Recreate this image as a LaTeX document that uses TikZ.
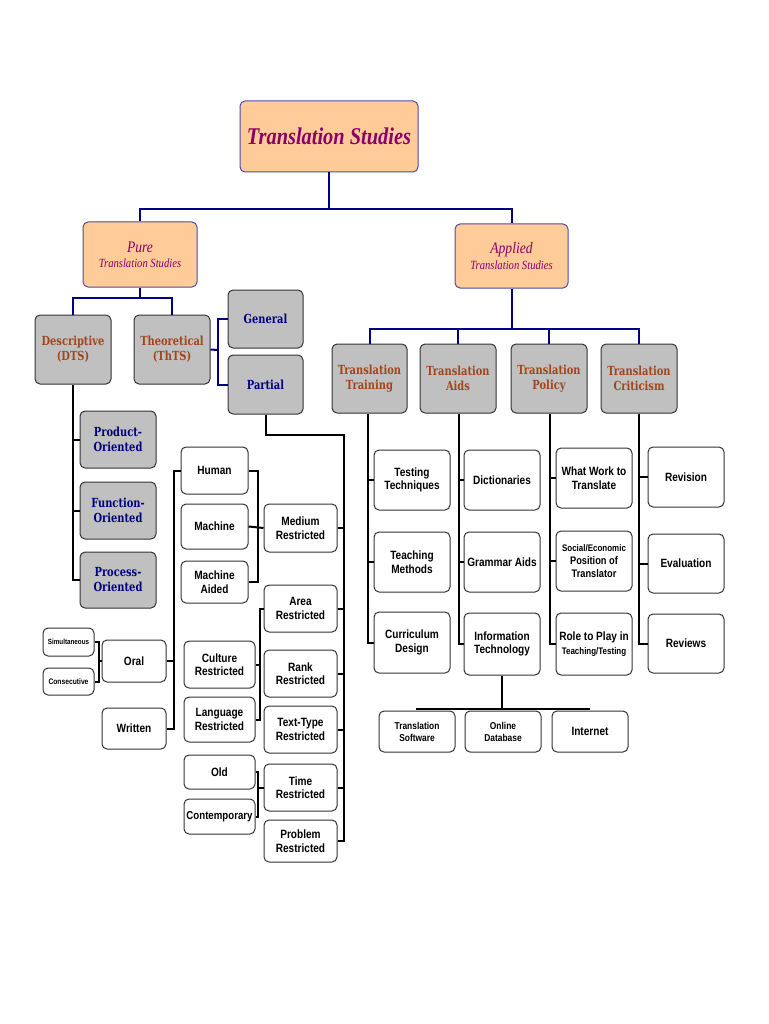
\documentclass[tikz,border=0pt]{standalone}
\usepackage{fontspec}
\setmainfont{Liberation Sans}[FakeStretch=0.84]
\newfontfamily\hdfont{DejaVu Serif Condensed}[FakeStretch=0.88]
\newfontfamily\ttlfont{Liberation Serif}[FakeStretch=0.85]
\definecolor{peach}{HTML}{FFCC99}
\definecolor{navyc}{HTML}{000080}
\definecolor{brownc}{HTML}{A0461E}
\definecolor{purp}{HTML}{8B0066}
\definecolor{greyc}{HTML}{C0C0C0}
\tikzset{
 base/.style={draw=black!80,line width=1pt,rounded corners=5pt,align=center,inner sep=1pt},
 wb/.style={base,fill=white,font=\fontsize{12}{13.5}\selectfont\bfseries},
 sm/.style={base,fill=white,font=\fontsize{8}{9}\selectfont\bfseries},
 gb/.style={base,fill=greyc,font=\hdfont\fontsize{12.5}{15}\selectfont\bfseries\color{brownc}},
 gn/.style={base,fill=greyc,font=\hdfont\fontsize{12.5}{15}\selectfont\bfseries\color{navyc}},
 pb/.style={base,fill=peach,draw=navyc!70,font=\ttlfont\itshape\color{purp}},
 bl/.style={navyc,line width=2pt},
 kl/.style={black,line width=2pt},
}
\begin{document}
\begin{tikzpicture}[x=1pt,y=-1pt]
\useasboundingbox (0,0) rectangle (768,1024);
% peach boxes
\node[pb,minimum width=178,minimum height=71,font=\ttlfont\itshape\bfseries\fontsize{24}{26}\selectfont\color{purp}] (ts) at (329,136.5) {Translation Studies};
\node[pb,minimum width=114,minimum height=65] (pure) at (140,254.5) {{\fontsize{16}{18}\selectfont Pure}\\[3pt]{\fontsize{12.5}{14}\selectfont Translation Studies}};
\node[pb,minimum width=113,minimum height=64] (appl) at (511.5,256) {{\fontsize{16}{18}\selectfont Applied}\\[3pt]{\fontsize{12.5}{14}\selectfont Translation Studies}};
% grey boxes
\node[gb,minimum width=76,minimum height=69] (desc) at (73,349.5) {Descriptive\\(DTS)};
\node[gb,minimum width=76,minimum height=69] (theo) at (172,349.5) {Theoretical\\(ThTS)};
\node[gn,minimum width=75,minimum height=58] (gen) at (265.5,319) {General};
\node[gn,minimum width=75,minimum height=59] (part) at (265.5,384.5) {Partial};
\node[gn,minimum width=76,minimum height=57] (prod) at (118,439.5) {Product-\\Oriented};
\node[gn,minimum width=76,minimum height=57] (func) at (118,510.5) {Function-\\Oriented};
\node[gn,minimum width=76,minimum height=56] (proc) at (118,580) {Process-\\Oriented};
\node[gb,minimum width=75,minimum height=69] (trn) at (369.5,378.5) {Translation\\Training};
\node[gb,minimum width=76,minimum height=69] (aids) at (458,378.5) {Translation\\Aids};
\node[gb,minimum width=76,minimum height=69] (pol) at (549,378.5) {Translation\\Policy};
\node[gb,minimum width=76,minimum height=69] (crit) at (639,378.5) {Translation\\Criticism};
% white boxes left
\node[wb,minimum width=67,minimum height=47] (hum) at (214.5,470.5) {Human};
\node[wb,minimum width=67,minimum height=45] (mach) at (214.5,526.5) {Machine};
\node[wb,minimum width=67,minimum height=42] (mai) at (214.5,582) {Machine\\Aided};
\node[wb,minimum width=73,minimum height=48] (med) at (300.5,528) {Medium\\Restricted};
\node[wb,minimum width=73,minimum height=47] (area) at (300.5,608.5) {Area\\Restricted};
\node[wb,minimum width=73,minimum height=47] (rank) at (300.5,673.5) {Rank\\Restricted};
\node[wb,minimum width=73,minimum height=47] (text) at (300.5,729.5) {Text-Type\\Restricted};
\node[wb,minimum width=73,minimum height=47] (time) at (300.5,787.5) {Time\\Restricted};
\node[wb,minimum width=73,minimum height=42] (prob) at (300.5,841) {Problem\\Restricted};
\node[wb,minimum width=71,minimum height=47] (cult) at (219.5,664.5) {Culture\\Restricted};
\node[wb,minimum width=71,minimum height=45] (lang) at (219.5,719.5) {Language\\Restricted};
\node[wb,minimum width=71,minimum height=34] (old) at (219.5,772) {Old};
\node[wb,minimum width=71,minimum height=35,font=\fontsize{11.5}{13}\selectfont\bfseries] (cont) at (219.5,816.5) {Contemporary};
\node[wb,minimum width=64,minimum height=42] (oral) at (134,661) {Oral};
\node[wb,minimum width=64,minimum height=41] (writ) at (134,728.5) {Written};
\node[sm,minimum width=51,minimum height=28,font=\fontsize{7.5}{9}\selectfont\bfseries] (simu) at (68.5,642) {Simultaneous};
\node[sm,minimum width=51,minimum height=27] (cons) at (68.5,681.5) {Consecutive};
% white boxes right
\node[wb,minimum width=76,minimum height=60] (test) at (412,480) {Testing\\Techniques};
\node[wb,minimum width=76,minimum height=60] (teach) at (412,562) {Teaching\\Methods};
\node[wb,minimum width=76,minimum height=61] (curr) at (412,642.5) {Curriculum\\Design};
\node[wb,minimum width=76,minimum height=60] (dict) at (502,480) {Dictionaries};
\node[wb,minimum width=76,minimum height=60] (gram) at (502,562) {Grammar Aids};
\node[wb,minimum width=76,minimum height=62] (info) at (502,644) {Information\\Technology};
\node[wb,minimum width=76,minimum height=60] (what) at (594,478) {What Work to\\Translate};
\node[wb,minimum width=76,minimum height=60,font=\fontsize{11}{13}\selectfont\bfseries] (soc) at (594,561) {{\fontsize{9.5}{11}\selectfont Social/Economic}\\Position of\\Translator};
\node[wb,minimum width=76,minimum height=62] (role) at (594,644) {Role to Play in\\{\fontsize{9.5}{11}\selectfont Teaching/Testing}};
\node[wb,minimum width=76,minimum height=60] (rev) at (686,477) {Revision};
\node[wb,minimum width=76,minimum height=59] (eval) at (686,563.5) {Evaluation};
\node[wb,minimum width=76,minimum height=59] (revs) at (686,643.5) {Reviews};
\node[sm,minimum width=76,minimum height=41,font=\fontsize{10}{12}\selectfont\bfseries] (soft) at (417,731.5) {Translation\\Software};
\node[sm,minimum width=76,minimum height=41,font=\fontsize{10}{12}\selectfont\bfseries] (odb) at (503,731.5) {Online\\Database};
\node[wb,minimum width=76,minimum height=41] (inet) at (590,731.5) {Internet};
% blue connectors
\coordinate (j1) at (329,209);
\draw[bl] (ts.south) -- (j1);
\draw[bl] (pure.north) |- (j1) -| (appl.north);
\coordinate (j2) at (140,298);
\draw[bl] (pure.south) -- (j2);
\draw[bl] (desc.north) |- (j2) -| (theo.north);
\coordinate (j3) at (218,350);
\draw[bl] (theo.east) -- (j3);
\draw[bl] (gen.west) -| (j3) |- (part.west);
\coordinate (j4) at (511.5,329);
\draw[bl] (appl.south) -- (j4);
\draw[bl] (trn.north) |- (j4) -| (crit.north);
\draw[bl] (aids.north) -- (aids.north |- j4);
\draw[bl] (pol.north) -- (pol.north |- j4);
% black connectors
\draw[kl] (desc.south) |- (proc.west);
\draw[kl] (desc.south |- prod.west) -- (prod.west);
\draw[kl] (desc.south |- func.west) -- (func.west);
\coordinate (sp) at (344,435);
\draw[kl] (part.south) |- (sp) |- (prob.east);
\foreach \n in {med,area,rank,text,time} \draw[kl] (\n.east) -- (\n.east -| sp);
\draw[kl] (hum.east) -| (258,582) -- (mai.east);
\draw[kl] (mach.east) -- (med.west);
\draw[kl] (hum.west) -| (174,728.5) -- (writ.east);
\draw[kl] (oral.east) -- (oral.east -| 174,0);
\draw[kl] (simu.east) -| (99,681.5) -- (cons.east);
\draw[kl] (99,661) -- (oral.west);
\draw[kl] (area.west) -| (259.5,719.5) -- (lang.east);
\draw[kl] (cult.east) -- (cult.east -| 259.5,0);
\draw[kl] (old.east) -| (257.5,816.5) -- (cont.east);
\draw[kl] (257.5,787.5) -- (time.west);
% right spines
\draw[kl] (trn.south -| 368,0) |- (curr.west);
\draw[kl] (368,480) -- (test.west); \draw[kl] (368,562) -- (teach.west);
\draw[kl] (aids.south -| 459,0) |- (info.west);
\draw[kl] (459,480) -- (dict.west); \draw[kl] (459,562) -- (gram.west);
\draw[kl] (pol.south -| 550,0) |- (role.west);
\draw[kl] (550,478) -- (what.west); \draw[kl] (550,561) -- (soc.west);
\draw[kl] (crit.south -| 639,0) |- (revs.west);
\draw[kl] (639,477) -- (rev.west); \draw[kl] (639,563.5) -- (eval.west);
\coordinate (j5) at (502,709);
\draw[kl] (info.south) -- (j5);
\draw[kl] (416,709) -- (590,709);
\end{tikzpicture}
\end{document}
